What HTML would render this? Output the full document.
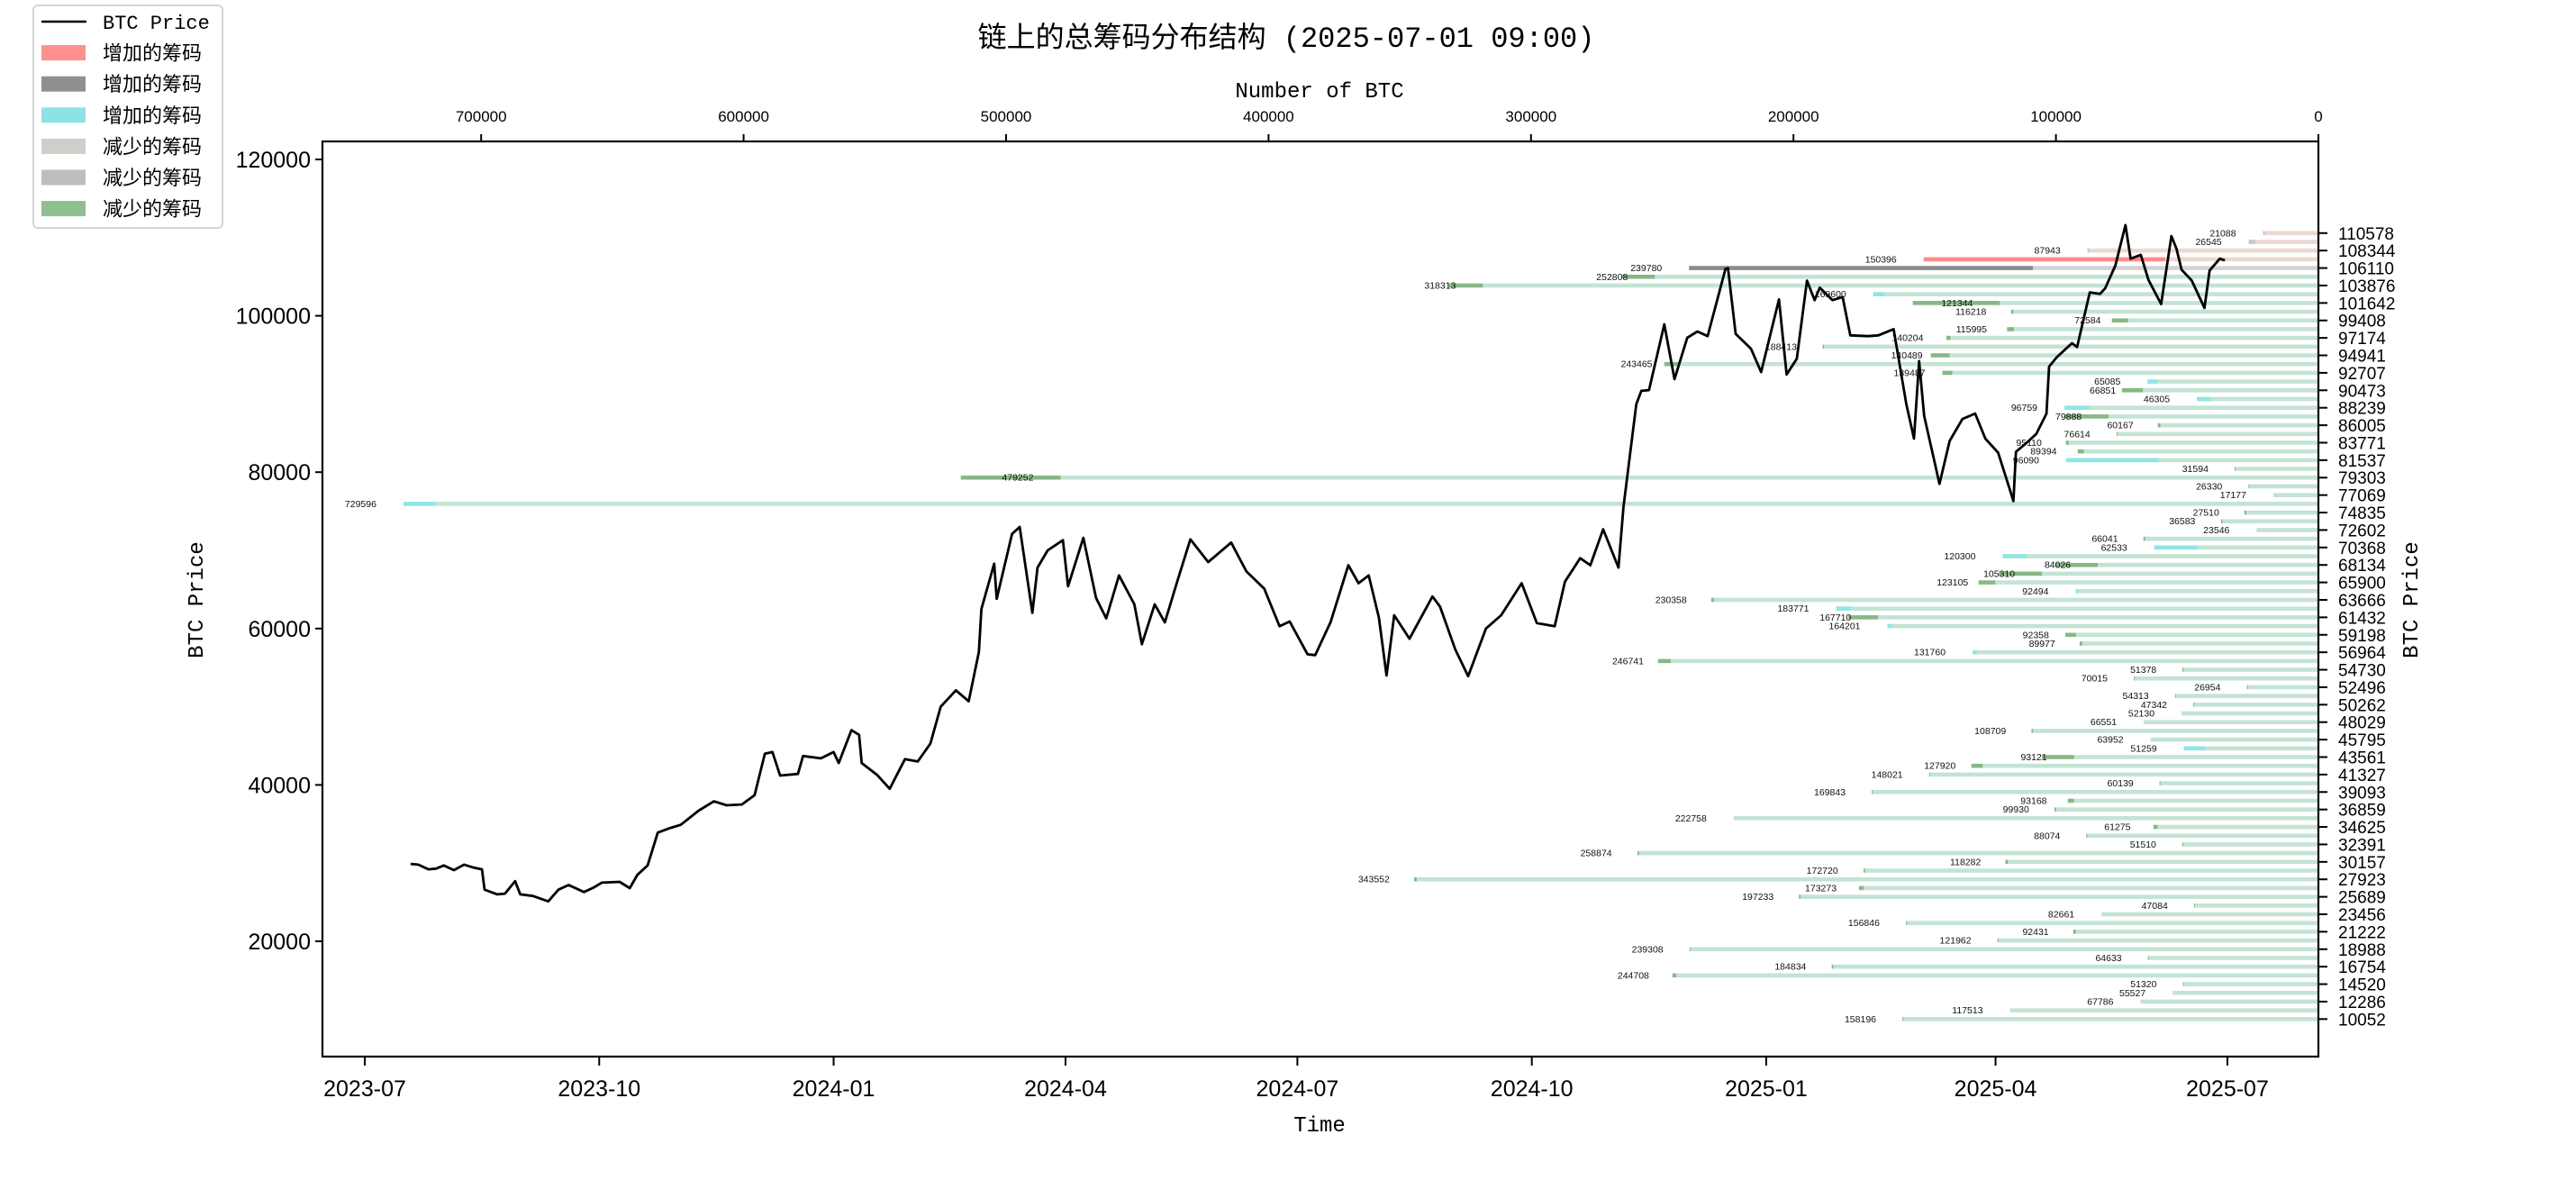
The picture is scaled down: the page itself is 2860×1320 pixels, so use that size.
<!DOCTYPE html>
<html><head><meta charset="utf-8">
<style>
html,body{margin:0;padding:0;background:#fff;}
svg{display:block;font-family:"Liberation Sans","Noto Sans CJK SC",sans-serif;}
.mono{font-family:"Liberation Mono","Noto Sans CJK SC",monospace;}
</style></head>
<body>
<svg id="chart" width="2860" height="1320" viewBox="0 0 2860 1320" xmlns="http://www.w3.org/2000/svg">
<rect x="0" y="0" width="2860" height="1320" fill="#fff"/>
<text x="1428" y="52" font-size="32" text-anchor="middle" class="mono">链上的总筹码分布结构 (2025-07-01 09:00)</text>
<text x="1465" y="108" font-size="24" text-anchor="middle" class="mono">Number of BTC</text>
<text x="1465" y="1256" font-size="24" text-anchor="middle" class="mono">Time</text>
<text transform="translate(225,666) rotate(-90)" font-size="24" text-anchor="middle" class="mono">BTC Price</text>
<text transform="translate(2684,666) rotate(-90)" font-size="24" text-anchor="middle" class="mono">BTC Price</text>
<g id="bars"></g>
<g id="labels"></g>
<g id="price"></g>
<g id="axes"></g>
<g id="legend"></g>
</svg>
<script>
const rightTicks=[110578,108344,106110,103876,101642,99408,97174,94941,92707,90473,88239,86005,83771,81537,79303,77069,74835,72602,70368,68134,65900,63666,61432,59198,56964,54730,52496,50262,48029,45795,43561,41327,39093,36859,34625,32391,30157,27923,25689,23456,21222,18988,16754,14520,12286,10052];
const chipTotals=[21088,26545,87943,150396,239780,252808,318313,169600,121344,116218,72584,115995,140204,188413,140489,243465,139487,65085,66851,46305,96759,79888,60167,76614,95110,89394,96090,31594,479252,26330,17177,729596,27510,36583,23546,66041,62533,120300,84026,105310,123105,92494,230358,183771,167710,164201,92358,89977,131760,246741,51378,70015,26954,54313,47342,52130,66551,108709,63952,51259,93121,127920,148021,60139,169843,93168,99930,222758,61275,88074,51510,258874,118282,172720,343552,173273,197233,47084,82661,156846,92431,121962,239308,64633,184834,244708,51320,55527,67786,117513,158196];
const chipDeltas=[600,2500,600,92000,131000,-12400,-13000,4300,-33200,-900,-6100,-2600,-1500,-500,-7200,-5800,-3800,3800,-8000,5400,9500,-16700,-1000,-300,-1100,-2300,35200,-300,-38000,-300,0,12000,-700,-500,0,-600,16500,9200,-16200,-16400,-6400,1200,-1000,5700,-11400,1600,-4100,-1000,1600,-4900,-500,-300,-300,-300,-300,0,0,-600,0,7900,-12200,-4300,-300,-400,-300,-2300,-600,0,-1600,-400,-400,-600,-1000,-600,-1000,-1800,-700,-300,0,-300,-1000,-300,-300,-300,-600,-1400,-300,0,0,0,-300];
const currentPrice=107100;
const priceDates=["2023-07-19","2023-07-22","2023-07-26","2023-07-29","2023-08-01","2023-08-05","2023-08-09","2023-08-13","2023-08-16","2023-08-17","2023-08-22","2023-08-25","2023-08-29","2023-08-31","2023-09-05","2023-09-11","2023-09-15","2023-09-19","2023-09-25","2023-09-29","2023-10-02","2023-10-09","2023-10-13","2023-10-16","2023-10-20","2023-10-24","2023-10-29","2023-11-02","2023-11-09","2023-11-15","2023-11-20","2023-11-26","2023-12-01","2023-12-05","2023-12-08","2023-12-11","2023-12-18","2023-12-20","2023-12-27","2024-01-01","2024-01-03","2024-01-08","2024-01-11","2024-01-12","2024-01-18","2024-01-23","2024-01-29","2024-02-03","2024-02-08","2024-02-12","2024-02-18","2024-02-23","2024-02-27","2024-02-28","2024-03-04","2024-03-05","2024-03-11","2024-03-14","2024-03-19","2024-03-21","2024-03-25","2024-03-31","2024-04-02","2024-04-08","2024-04-13","2024-04-17","2024-04-22","2024-04-28","2024-05-01","2024-05-06","2024-05-10","2024-05-15","2024-05-20","2024-05-27","2024-06-05","2024-06-11","2024-06-18","2024-06-24","2024-06-28","2024-07-05","2024-07-08","2024-07-14","2024-07-21","2024-07-25","2024-07-29","2024-08-02","2024-08-05","2024-08-08","2024-08-14","2024-08-23","2024-08-26","2024-09-01","2024-09-06","2024-09-13","2024-09-19","2024-09-27","2024-10-03","2024-10-10","2024-10-14","2024-10-20","2024-10-24","2024-10-29","2024-11-04","2024-11-06","2024-11-11","2024-11-13","2024-11-16","2024-11-22","2024-11-26","2024-12-01","2024-12-05","2024-12-09","2024-12-16","2024-12-17","2024-12-20","2024-12-26","2024-12-30","2025-01-06","2025-01-09","2025-01-13","2025-01-17","2025-01-20","2025-01-22","2025-01-27","2025-01-31","2025-02-03","2025-02-10","2025-02-14","2025-02-20","2025-02-25","2025-02-28","2025-03-02","2025-03-04","2025-03-10","2025-03-14","2025-03-19","2025-03-24","2025-03-28","2025-04-02","2025-04-06","2025-04-08","2025-04-09","2025-04-13","2025-04-17","2025-04-21","2025-04-22","2025-04-25","2025-05-01","2025-05-03","2025-05-08","2025-05-12","2025-05-14","2025-05-18","2025-05-22","2025-05-24","2025-05-28","2025-05-31","2025-06-05","2025-06-09","2025-06-11","2025-06-13","2025-06-17","2025-06-22","2025-06-24","2025-06-28","2025-06-30"];
const priceValues=[29900,29800,29200,29300,29700,29100,29800,29400,29200,26600,26000,26100,27700,26000,25800,25100,26600,27200,26300,26900,27500,27600,26800,28500,29700,33900,34500,34900,36700,37900,37400,37500,38700,44000,44200,41200,41400,43700,43400,44200,42800,47000,46400,42800,41300,39500,43300,43000,45300,50000,52100,50700,57000,62500,68300,63800,72100,73000,62000,67800,70000,71300,65400,71600,63900,61300,66800,63100,58000,63100,60800,66200,71400,68500,71000,67300,65100,60300,60900,56700,56600,60800,68100,65800,66800,61400,54000,61700,58700,64100,62800,57300,53900,60000,61700,65800,60700,60300,66000,69000,68100,72700,67800,75600,88700,90400,90500,98900,91900,97200,98000,97400,106000,106100,97700,95800,92800,102100,92500,94500,104500,102000,103600,102000,102400,97500,97400,97500,98300,88700,84300,94200,87200,78500,84000,86800,87500,84300,82500,78400,76300,82600,83700,84900,87500,93500,94700,96500,96000,103000,102800,103500,106400,111600,107300,107800,104600,101500,110200,108600,105900,104500,101000,105800,107300,107100];
const leftTicks=[20000,40000,60000,80000,100000,120000];
const topTicks=[700000,600000,500000,400000,300000,200000,100000,0];
const dateTicks=["2023-07","2023-10","2024-01","2024-04","2024-07","2024-10","2025-01","2025-04","2025-07"];
const legendLabels=["BTC Price","增加的筹码","增加的筹码","增加的筹码","减少的筹码","减少的筹码","减少的筹码"];

const NS="http://www.w3.org/2000/svg";
const L=358,R=2574,T=157,B=1173;
function yP(p){return 177+(120000-p)*0.00868;}
function xN(n){return R-n*0.002914;}
const day0=Date.UTC(2023,6,1);
function xD(s){const a=s.split('-');const t=Date.UTC(+a[0],+a[1]-1,a[2]?+a[2]:1);return 405+(t-day0)/86400000*2.829;}
function mk(tag,attrs,parent){const e=document.createElementNS(NS,tag);for(const k in attrs)e.setAttribute(k,attrs[k]);parent.appendChild(e);return e;}

const gb=document.getElementById('bars'),gl=document.getElementById('labels');
const rowPrices=[];
for(let i=0;i<rightTicks.length;i++){rowPrices.push(rightTicks[i]);if(i<rightTicks.length-1)rowPrices.push((rightTicks[i]+rightTicks[i+1])/2);}
for(let i=0;i<chipTotals.length;i++){
  const p=rowPrices[i],n=chipTotals[i],d=chipDeltas[i];
  const y=yP(p);const h=4.6;
  let light='#c4e3d4',inc='#8ee6e6',dec='#86b886';
  if(p>currentPrice){light='#ebd8d0';inc='#ff8a8a';dec='#c8c8c8';}
  else if(p>currentPrice-1700){light='#d2d2d2';inc='#8c8c8c';dec='#8c8c8c';}
  const x0=Math.max(L,xN(n));
  const r=mk('rect',{x:x0,y:y-h/2,width:R-x0,height:h,fill:light},gb);
  
  
  if(d>0){
    const xa=Math.max(L,xN(n)),xb=xN(n-d);
    const s=mk('rect',{x:xa,y:y-h/2,width:Math.max(1,xb-xa),height:h,fill:(i<3?'#c8c8c8':inc)},gb);
    
    
  }else if(d<0){
    const xa=Math.max(L,xN(n-d)),xb=xN(n);
    const s=mk('rect',{x:xa,y:y-h/2,width:Math.max(1,xb-xa),height:h,fill:dec},gb);
    
    
  }
  const t=mk('text',{x:xN(n)-30,y:y+3.5,'font-size':10.5,'text-anchor':'end',fill:'#111'},gl);
  t.textContent=String(n);
  
  
}

const gp=document.getElementById('price');
let dstr='';
for(let i=0;i<priceDates.length;i++){dstr+=(i?'L':'M')+xD(priceDates[i]).toFixed(1)+','+yP(priceValues[i]).toFixed(1);}
const pl=mk('path',{d:dstr,fill:'none',stroke:'#000','stroke-width':2.8,'stroke-linejoin':'round'},gp);



const ga=document.getElementById('axes');
const fr=mk('rect',{x:L,y:T,width:R-L,height:B-T,fill:'none',stroke:'#000','stroke-width':2.2},ga);


leftTicks.forEach(v=>{const y=yP(v);
  mk('line',{x1:L-8,x2:L,y1:y,y2:y,stroke:'#000','stroke-width':2},ga);
  const t=mk('text',{x:L-13,y:y+9,'font-size':25,'text-anchor':'end'},ga);t.textContent=String(v);
  
  });
rightTicks.forEach(v=>{const y=yP(v);
  mk('line',{x1:R,x2:R+10,y1:y,y2:y,stroke:'#000','stroke-width':2},ga);
  const t=mk('text',{x:R+22,y:y+7,'font-size':19},ga);t.textContent=String(v);
  
  });
topTicks.forEach(v=>{const x=xN(v);
  mk('line',{x1:x,x2:x,y1:T-8,y2:T,stroke:'#000','stroke-width':2},ga);
  const t=mk('text',{x:x,y:T-22,'font-size':17,'text-anchor':'middle'},ga);t.textContent=String(v);
  
  });
dateTicks.forEach(v=>{const x=xD(v);
  mk('line',{x1:x,x2:x,y1:B,y2:B+10,stroke:'#000','stroke-width':2},ga);
  const t=mk('text',{x:x,y:B+44,'font-size':25,'text-anchor':'middle'},ga);t.textContent=v;
  
  });

const gL=document.getElementById('legend');
const lb=mk('rect',{x:37,y:6,width:210,height:247,rx:5,fill:'#fff',stroke:'#d4d4d4','stroke-width':2},gL);


const swatch=[null,'#ff9090','#8f8f8f','#8de3e3','#cfcfca','#bdbdbd','#8fbf8f'];
legendLabels.forEach((s,i)=>{const y=24+i*34.6;
  if(i===0){mk('line',{x1:46,x2:96,y1:y,y2:y,stroke:'#000','stroke-width':2.6},gL);}
  else{mk('rect',{x:46,y:y-8.5,width:49,height:17,fill:swatch[i]},gL);}
  const t=mk('text',{x:114,y:y+8,'font-size':22,class:'mono'},gL);t.textContent=s;
  
  });
</script>
</body></html>
